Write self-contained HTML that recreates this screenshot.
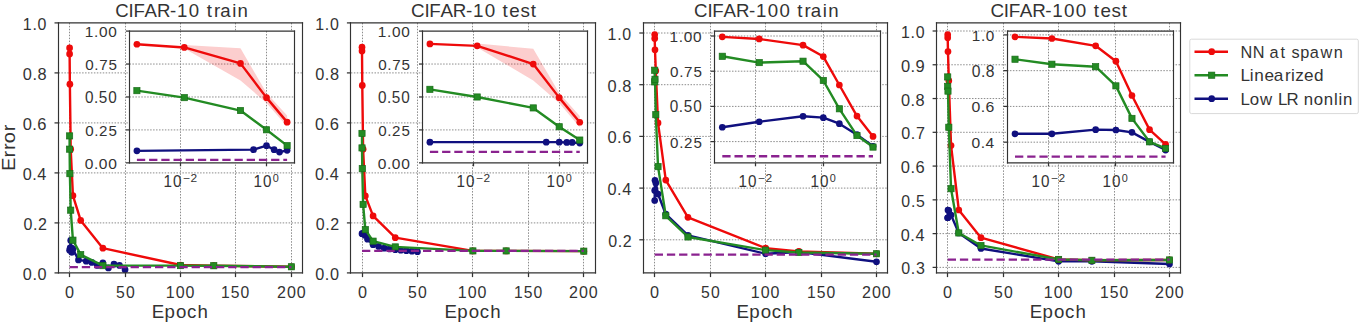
<!DOCTYPE html>
<html><head><meta charset="utf-8"><style>html,body{margin:0;padding:0;background:#fff;}svg{display:block;}</style></head><body>
<svg width="1362" height="323" viewBox="0 0 1362 323" font-family='"Liberation Sans", sans-serif' fill="#333333">
<rect width="1362" height="323" fill="#fff"/>
<clipPath id="c0"><rect x="58.5" y="22.9" width="244.00" height="250.00"/></clipPath>
<line x1="69.50" y1="22.9" x2="69.50" y2="272.9" stroke="#8c8c8c" stroke-width="1" stroke-dasharray="1.5 1.45"/>
<line x1="125.50" y1="22.9" x2="125.50" y2="272.9" stroke="#8c8c8c" stroke-width="1" stroke-dasharray="1.5 1.45"/>
<line x1="180.50" y1="22.9" x2="180.50" y2="272.9" stroke="#8c8c8c" stroke-width="1" stroke-dasharray="1.5 1.45"/>
<line x1="235.50" y1="22.9" x2="235.50" y2="272.9" stroke="#8c8c8c" stroke-width="1" stroke-dasharray="1.5 1.45"/>
<line x1="291.50" y1="22.9" x2="291.50" y2="272.9" stroke="#8c8c8c" stroke-width="1" stroke-dasharray="1.5 1.45"/>
<line x1="58.5" y1="222.90" x2="302.5" y2="222.90" stroke="#8c8c8c" stroke-width="1" stroke-dasharray="1.5 1.45"/>
<line x1="58.5" y1="172.90" x2="302.5" y2="172.90" stroke="#8c8c8c" stroke-width="1" stroke-dasharray="1.5 1.45"/>
<line x1="58.5" y1="122.90" x2="302.5" y2="122.90" stroke="#8c8c8c" stroke-width="1" stroke-dasharray="1.5 1.45"/>
<line x1="58.5" y1="72.90" x2="302.5" y2="72.90" stroke="#8c8c8c" stroke-width="1" stroke-dasharray="1.5 1.45"/>
<g clip-path="url(#c0)"><path d="M69.60,250.15 L70.15,247.90 L70.71,240.40 L71.26,247.90 L71.82,252.40 L72.93,249.15 L78.47,259.90 L86.23,261.15 L91.78,262.40 L97.32,265.40 L102.87,262.90 L108.41,267.90 L113.96,264.15 L119.50,265.40 L125.05,269.65" fill="none" stroke="#10107f" stroke-width="2.4" stroke-linejoin="round"/>
<circle cx="69.60" cy="250.15" r="3.35" fill="#10107f"/>
<circle cx="70.15" cy="247.90" r="3.35" fill="#10107f"/>
<circle cx="70.71" cy="240.40" r="3.35" fill="#10107f"/>
<circle cx="71.26" cy="247.90" r="3.35" fill="#10107f"/>
<circle cx="71.82" cy="252.40" r="3.35" fill="#10107f"/>
<circle cx="72.93" cy="249.15" r="3.35" fill="#10107f"/>
<circle cx="78.47" cy="259.90" r="3.35" fill="#10107f"/>
<circle cx="86.23" cy="261.15" r="3.35" fill="#10107f"/>
<circle cx="91.78" cy="262.40" r="3.35" fill="#10107f"/>
<circle cx="97.32" cy="265.40" r="3.35" fill="#10107f"/>
<circle cx="102.87" cy="262.90" r="3.35" fill="#10107f"/>
<circle cx="108.41" cy="267.90" r="3.35" fill="#10107f"/>
<circle cx="113.96" cy="264.15" r="3.35" fill="#10107f"/>
<circle cx="119.50" cy="265.40" r="3.35" fill="#10107f"/>
<circle cx="125.05" cy="269.65" r="3.35" fill="#10107f"/>
<path d="M69.60,47.90 L69.61,53.90 L69.88,84.15 L70.71,149.15 L72.93,195.65 L80.69,220.40 L102.87,248.15 L180.50,265.00 L213.77,265.65 L291.40,266.77" fill="none" stroke="#ee0a0a" stroke-width="2.4" stroke-linejoin="round"/>
<circle cx="69.60" cy="47.90" r="3.35" fill="#ee0a0a"/>
<circle cx="69.61" cy="53.90" r="3.35" fill="#ee0a0a"/>
<circle cx="69.88" cy="84.15" r="3.35" fill="#ee0a0a"/>
<circle cx="70.71" cy="149.15" r="3.35" fill="#ee0a0a"/>
<circle cx="72.93" cy="195.65" r="3.35" fill="#ee0a0a"/>
<circle cx="80.69" cy="220.40" r="3.35" fill="#ee0a0a"/>
<circle cx="102.87" cy="248.15" r="3.35" fill="#ee0a0a"/>
<circle cx="180.50" cy="265.00" r="3.35" fill="#ee0a0a"/>
<circle cx="213.77" cy="265.65" r="3.35" fill="#ee0a0a"/>
<circle cx="291.40" cy="266.77" r="3.35" fill="#ee0a0a"/>
<path d="M69.60,135.90 L69.61,149.15 L69.88,173.65 L70.71,210.15 L72.93,240.15 L80.69,254.65 L102.87,265.65 L180.50,265.60 L213.77,265.75 L291.40,266.77" fill="none" stroke="#238b23" stroke-width="2.4" stroke-linejoin="round"/>
<rect x="66.50" y="132.80" width="6.20" height="6.20" fill="#238b23" stroke="#186c18" stroke-width="0.7"/>
<rect x="66.51" y="146.05" width="6.20" height="6.20" fill="#238b23" stroke="#186c18" stroke-width="0.7"/>
<rect x="66.78" y="170.55" width="6.20" height="6.20" fill="#238b23" stroke="#186c18" stroke-width="0.7"/>
<rect x="67.61" y="207.05" width="6.20" height="6.20" fill="#238b23" stroke="#186c18" stroke-width="0.7"/>
<rect x="69.83" y="237.05" width="6.20" height="6.20" fill="#238b23" stroke="#186c18" stroke-width="0.7"/>
<rect x="77.59" y="251.55" width="6.20" height="6.20" fill="#238b23" stroke="#186c18" stroke-width="0.7"/>
<rect x="99.77" y="262.55" width="6.20" height="6.20" fill="#238b23" stroke="#186c18" stroke-width="0.7"/>
<rect x="177.40" y="262.50" width="6.20" height="6.20" fill="#238b23" stroke="#186c18" stroke-width="0.7"/>
<rect x="210.67" y="262.65" width="6.20" height="6.20" fill="#238b23" stroke="#186c18" stroke-width="0.7"/>
<rect x="288.30" y="263.67" width="6.20" height="6.20" fill="#238b23" stroke="#186c18" stroke-width="0.7"/>
<line x1="69.60" y1="267.15" x2="291.40" y2="267.15" stroke="#8a228f" stroke-width="2.3" stroke-dasharray="8.3 3.9"/></g>
<path d="M58.50,22.275 L58.50,273.525 M302.50,22.275 L302.50,273.525" stroke="#333333" stroke-width="1.15" fill="none"/><path d="M57.90,22.90 L303.10,22.90 M57.90,272.90 L303.10,272.90" stroke="#333333" stroke-width="1.25" fill="none"/>
<line x1="69.50" y1="272.9" x2="69.50" y2="277.09999999999997" stroke="#333333" stroke-width="1.25"/>
<text transform="translate(65.62,297.60) scale(0.9945,1)" x="-0.64" y="0" font-size="16.32" >0</text>
<line x1="125.50" y1="272.9" x2="125.50" y2="277.09999999999997" stroke="#333333" stroke-width="1.25"/>
<text transform="translate(116.81,297.60) scale(0.9666,1)" x="-0.77 9.43" y="0" font-size="16.32" >50</text>
<line x1="180.50" y1="272.9" x2="180.50" y2="277.09999999999997" stroke="#333333" stroke-width="1.25"/>
<text transform="translate(167.16,297.60) scale(0.9806,1)" x="-1.35 8.72 18.71" y="0" font-size="16.32" >100</text>
<line x1="235.50" y1="272.9" x2="235.50" y2="277.09999999999997" stroke="#333333" stroke-width="1.25"/>
<text transform="translate(222.16,297.60) scale(0.9614,1)" x="-1.29 8.92 19.18" y="0" font-size="16.32" >150</text>
<line x1="291.50" y1="272.9" x2="291.50" y2="277.09999999999997" stroke="#333333" stroke-width="1.25"/>
<text transform="translate(277.88,297.60) scale(0.9829,1)" x="-0.91 9.26 19.23" y="0" font-size="16.32" >200</text>
<line x1="54.5" y1="272.90" x2="58.5" y2="272.90" stroke="#333333" stroke-width="1.25"/>
<text transform="translate(23.45,279.90) scale(0.9969,1)" x="-0.65 8.99 14.09" y="0" font-size="16.32" >0.0</text>
<line x1="54.5" y1="222.90" x2="58.5" y2="222.90" stroke="#333333" stroke-width="1.25"/>
<text transform="translate(23.97,229.90) scale(0.9810,1)" x="-0.58 9.17 14.19" y="0" font-size="16.32" >0.2</text>
<line x1="54.5" y1="172.90" x2="58.5" y2="172.90" stroke="#333333" stroke-width="1.25"/>
<text transform="translate(23.29,179.90) scale(0.9969,1)" x="-0.65 8.99 14.09" y="0" font-size="16.32" >0.4</text>
<line x1="54.5" y1="122.90" x2="58.5" y2="122.90" stroke="#333333" stroke-width="1.25"/>
<text transform="translate(23.39,129.90) scale(1.0124,1)" x="-0.71 8.82 13.81" y="0" font-size="16.32" >0.6</text>
<line x1="54.5" y1="72.90" x2="58.5" y2="72.90" stroke="#333333" stroke-width="1.25"/>
<text transform="translate(23.48,79.90) scale(1.0017,1)" x="-0.67 8.94 14.00" y="0" font-size="16.32" >0.8</text>
<line x1="54.5" y1="22.90" x2="58.5" y2="22.90" stroke="#333333" stroke-width="1.25"/>
<text transform="translate(24.12,29.90) scale(0.9778,1)" x="-1.34 8.52 13.76" y="0" font-size="16.32" >1.0</text>
<text transform="translate(116.62,16.60) scale(0.9815,1)" x="-1.45 12.17 17.15 28.43 41.15 54.42 61.56 73.58 73.58 91.77 99.20 105.61 117.83 123.24" y="0" font-size="18.95" >CIFAR-10 train</text>
<text transform="translate(154.01,318.20) scale(0.9854,1)" x="-2.31 10.75 22.26 33.42 44.17" y="0" font-size="18.95" >Epoch</text>
<g transform="translate(15.0,146.3) rotate(-90)"><text transform="translate(-21.89,0.00) scale(1.0636,1)" x="-2.63 9.95 17.06 23.48 34.76" y="0" font-size="18.95">Error</text></g>
<clipPath id="ic0"><rect x="129.5" y="31.1" width="164.70" height="131.70"/></clipPath>
<rect x="129.5" y="31.1" width="164.70" height="131.70" fill="#fff"/>
<line x1="180.50" y1="31.1" x2="180.50" y2="162.8" stroke="#8c8c8c" stroke-width="1" stroke-dasharray="1.5 1.45"/>
<line x1="266.50" y1="31.1" x2="266.50" y2="162.8" stroke="#8c8c8c" stroke-width="1" stroke-dasharray="1.5 1.45"/>
<line x1="129.5" y1="129.91" x2="294.2" y2="129.91" stroke="#8c8c8c" stroke-width="1" stroke-dasharray="1.5 1.45"/>
<line x1="129.5" y1="96.97" x2="294.2" y2="96.97" stroke="#8c8c8c" stroke-width="1" stroke-dasharray="1.5 1.45"/>
<line x1="129.5" y1="64.04" x2="294.2" y2="64.04" stroke="#8c8c8c" stroke-width="1" stroke-dasharray="1.5 1.45"/>
<g clip-path="url(#ic0)"><path d="M184.29,44.93 L240.49,48.23 L266.50,93.02 L287.11,115.42 L287.11,126.62 L266.50,102.90 L240.49,80.51 L184.29,48.49Z" fill="#ee0a0a" fill-opacity="0.2" stroke="none"/>
<path d="M136.90,150.86 L253.50,149.67 L266.50,145.72 L274.11,149.67 L279.50,152.05 L287.11,150.33" fill="none" stroke="#10107f" stroke-width="2.4" stroke-linejoin="round"/>
<circle cx="136.90" cy="150.86" r="3.35" fill="#10107f"/>
<circle cx="253.50" cy="149.67" r="3.35" fill="#10107f"/>
<circle cx="266.50" cy="145.72" r="3.35" fill="#10107f"/>
<circle cx="274.11" cy="149.67" r="3.35" fill="#10107f"/>
<circle cx="279.50" cy="152.05" r="3.35" fill="#10107f"/>
<circle cx="287.11" cy="150.33" r="3.35" fill="#10107f"/>
<path d="M136.90,44.27 L184.29,47.44 L240.49,63.38 L266.50,97.63 L287.11,122.14" fill="none" stroke="#ee0a0a" stroke-width="2.4" stroke-linejoin="round"/>
<circle cx="136.90" cy="44.27" r="3.35" fill="#ee0a0a"/>
<circle cx="184.29" cy="47.44" r="3.35" fill="#ee0a0a"/>
<circle cx="240.49" cy="63.38" r="3.35" fill="#ee0a0a"/>
<circle cx="266.50" cy="97.63" r="3.35" fill="#ee0a0a"/>
<circle cx="287.11" cy="122.14" r="3.35" fill="#ee0a0a"/>
<path d="M136.90,90.65 L184.29,97.63 L240.49,110.55 L266.50,129.78 L287.11,145.59" fill="none" stroke="#238b23" stroke-width="2.4" stroke-linejoin="round"/>
<rect x="133.80" y="87.55" width="6.20" height="6.20" fill="#238b23" stroke="#186c18" stroke-width="0.7"/>
<rect x="181.19" y="94.53" width="6.20" height="6.20" fill="#238b23" stroke="#186c18" stroke-width="0.7"/>
<rect x="237.39" y="107.45" width="6.20" height="6.20" fill="#238b23" stroke="#186c18" stroke-width="0.7"/>
<rect x="263.40" y="126.68" width="6.20" height="6.20" fill="#238b23" stroke="#186c18" stroke-width="0.7"/>
<rect x="284.01" y="142.49" width="6.20" height="6.20" fill="#238b23" stroke="#186c18" stroke-width="0.7"/>
<line x1="136.90" y1="159.95" x2="287.11" y2="159.95" stroke="#8a228f" stroke-width="2.3" stroke-dasharray="8.3 3.9"/></g>
<path d="M129.50,30.475 L129.50,163.425 M294.50,30.475 L294.50,163.425" stroke="#333333" stroke-width="1.15" fill="none"/><path d="M128.90,31.10 L295.10,31.10 M128.90,162.80 L295.10,162.80" stroke="#333333" stroke-width="1.25" fill="none"/>
<line x1="180.50" y1="162.8" x2="180.50" y2="166.3" stroke="#333333" stroke-width="1.25"/>
<text transform="translate(164.77,186.80) scale(0.9733,1)" x="-1.27 8.45" y="0" font-size="15.64" >10</text>
<text transform="translate(183.14,181.90) scale(1.0912,1)" x="-0.24 6.77" y="0" font-size="10.94" >−2</text>
<line x1="266.50" y1="162.8" x2="266.50" y2="166.3" stroke="#333333" stroke-width="1.25"/>
<text transform="translate(254.71,186.80) scale(0.9733,1)" x="-1.27 8.45" y="0" font-size="15.64" >10</text>
<text transform="translate(273.08,181.90) scale(0.9945,1)" x="-0.43" y="0" font-size="10.94" >0</text>
<line x1="126.0" y1="162.85" x2="129.5" y2="162.85" stroke="#333333" stroke-width="1.25"/>
<text transform="translate(85.41,168.85) scale(1.0008,1)" x="-0.61 8.58 13.45 22.82" y="0" font-size="15.56" >0.00</text>
<line x1="126.0" y1="129.91" x2="129.5" y2="129.91" stroke="#333333" stroke-width="1.25"/>
<text transform="translate(85.72,135.91) scale(0.9722,1)" x="-0.50 8.89 13.77 23.56" y="0" font-size="15.56" >0.25</text>
<line x1="126.0" y1="96.97" x2="129.5" y2="96.97" stroke="#333333" stroke-width="1.25"/>
<text transform="translate(85.41,102.97) scale(0.9834,1)" x="-0.55 8.77 13.70 23.31" y="0" font-size="15.56" >0.50</text>
<line x1="126.0" y1="64.04" x2="129.5" y2="64.04" stroke="#333333" stroke-width="1.25"/>
<text transform="translate(85.72,70.04) scale(0.9765,1)" x="-0.52 8.85 13.86 23.44" y="0" font-size="15.56" >0.75</text>
<line x1="126.0" y1="31.10" x2="129.5" y2="31.10" stroke="#333333" stroke-width="1.25"/>
<text transform="translate(86.06,37.10) scale(0.9878,1)" x="-1.30 8.06 13.03 22.53" y="0" font-size="15.56" >1.00</text>
<clipPath id="c1"><rect x="350.9" y="22.9" width="244.70" height="250.00"/></clipPath>
<line x1="362.50" y1="22.9" x2="362.50" y2="272.9" stroke="#8c8c8c" stroke-width="1" stroke-dasharray="1.5 1.45"/>
<line x1="417.50" y1="22.9" x2="417.50" y2="272.9" stroke="#8c8c8c" stroke-width="1" stroke-dasharray="1.5 1.45"/>
<line x1="472.50" y1="22.9" x2="472.50" y2="272.9" stroke="#8c8c8c" stroke-width="1" stroke-dasharray="1.5 1.45"/>
<line x1="528.50" y1="22.9" x2="528.50" y2="272.9" stroke="#8c8c8c" stroke-width="1" stroke-dasharray="1.5 1.45"/>
<line x1="583.50" y1="22.9" x2="583.50" y2="272.9" stroke="#8c8c8c" stroke-width="1" stroke-dasharray="1.5 1.45"/>
<line x1="350.9" y1="222.90" x2="595.6" y2="222.90" stroke="#8c8c8c" stroke-width="1" stroke-dasharray="1.5 1.45"/>
<line x1="350.9" y1="172.90" x2="595.6" y2="172.90" stroke="#8c8c8c" stroke-width="1" stroke-dasharray="1.5 1.45"/>
<line x1="350.9" y1="122.90" x2="595.6" y2="122.90" stroke="#8c8c8c" stroke-width="1" stroke-dasharray="1.5 1.45"/>
<line x1="350.9" y1="72.90" x2="595.6" y2="72.90" stroke="#8c8c8c" stroke-width="1" stroke-dasharray="1.5 1.45"/>
<g clip-path="url(#c1)"><path d="M362.00,233.65 L362.55,233.65 L363.11,233.65 L363.66,234.15 L364.22,234.15 L365.33,235.40 L367.55,239.15 L373.09,244.65 L378.63,246.40 L384.18,248.15 L389.73,248.90 L395.27,249.65 L400.81,250.15 L406.36,250.65 L411.90,251.15 L417.45,251.65" fill="none" stroke="#10107f" stroke-width="2.4" stroke-linejoin="round"/>
<circle cx="362.00" cy="233.65" r="3.35" fill="#10107f"/>
<circle cx="362.55" cy="233.65" r="3.35" fill="#10107f"/>
<circle cx="363.11" cy="233.65" r="3.35" fill="#10107f"/>
<circle cx="363.66" cy="234.15" r="3.35" fill="#10107f"/>
<circle cx="364.22" cy="234.15" r="3.35" fill="#10107f"/>
<circle cx="365.33" cy="235.40" r="3.35" fill="#10107f"/>
<circle cx="367.55" cy="239.15" r="3.35" fill="#10107f"/>
<circle cx="373.09" cy="244.65" r="3.35" fill="#10107f"/>
<circle cx="378.63" cy="246.40" r="3.35" fill="#10107f"/>
<circle cx="384.18" cy="248.15" r="3.35" fill="#10107f"/>
<circle cx="389.73" cy="248.90" r="3.35" fill="#10107f"/>
<circle cx="395.27" cy="249.65" r="3.35" fill="#10107f"/>
<circle cx="400.81" cy="250.15" r="3.35" fill="#10107f"/>
<circle cx="406.36" cy="250.65" r="3.35" fill="#10107f"/>
<circle cx="411.90" cy="251.15" r="3.35" fill="#10107f"/>
<circle cx="417.45" cy="251.65" r="3.35" fill="#10107f"/>
<path d="M362.00,47.15 L362.01,50.90 L362.28,85.40 L363.11,149.15 L365.33,195.90 L373.09,215.90 L395.27,237.65 L472.90,250.90 L506.17,250.90 L583.80,251.15" fill="none" stroke="#ee0a0a" stroke-width="2.4" stroke-linejoin="round"/>
<circle cx="362.00" cy="47.15" r="3.35" fill="#ee0a0a"/>
<circle cx="362.01" cy="50.90" r="3.35" fill="#ee0a0a"/>
<circle cx="362.28" cy="85.40" r="3.35" fill="#ee0a0a"/>
<circle cx="363.11" cy="149.15" r="3.35" fill="#ee0a0a"/>
<circle cx="365.33" cy="195.90" r="3.35" fill="#ee0a0a"/>
<circle cx="373.09" cy="215.90" r="3.35" fill="#ee0a0a"/>
<circle cx="395.27" cy="237.65" r="3.35" fill="#ee0a0a"/>
<circle cx="472.90" cy="250.90" r="3.35" fill="#ee0a0a"/>
<circle cx="506.17" cy="250.90" r="3.35" fill="#ee0a0a"/>
<circle cx="583.80" cy="251.15" r="3.35" fill="#ee0a0a"/>
<path d="M362.00,133.40 L362.01,147.90 L362.28,168.65 L363.11,204.40 L365.33,229.65 L373.09,241.15 L395.27,246.90 L472.90,250.90 L506.17,250.90 L583.80,251.15" fill="none" stroke="#238b23" stroke-width="2.4" stroke-linejoin="round"/>
<rect x="358.90" y="130.30" width="6.20" height="6.20" fill="#238b23" stroke="#186c18" stroke-width="0.7"/>
<rect x="358.91" y="144.80" width="6.20" height="6.20" fill="#238b23" stroke="#186c18" stroke-width="0.7"/>
<rect x="359.18" y="165.55" width="6.20" height="6.20" fill="#238b23" stroke="#186c18" stroke-width="0.7"/>
<rect x="360.01" y="201.30" width="6.20" height="6.20" fill="#238b23" stroke="#186c18" stroke-width="0.7"/>
<rect x="362.23" y="226.55" width="6.20" height="6.20" fill="#238b23" stroke="#186c18" stroke-width="0.7"/>
<rect x="369.99" y="238.05" width="6.20" height="6.20" fill="#238b23" stroke="#186c18" stroke-width="0.7"/>
<rect x="392.17" y="243.80" width="6.20" height="6.20" fill="#238b23" stroke="#186c18" stroke-width="0.7"/>
<rect x="469.80" y="247.80" width="6.20" height="6.20" fill="#238b23" stroke="#186c18" stroke-width="0.7"/>
<rect x="503.07" y="247.80" width="6.20" height="6.20" fill="#238b23" stroke="#186c18" stroke-width="0.7"/>
<rect x="580.70" y="248.05" width="6.20" height="6.20" fill="#238b23" stroke="#186c18" stroke-width="0.7"/>
<line x1="362.00" y1="250.90" x2="583.80" y2="250.90" stroke="#8a228f" stroke-width="2.3" stroke-dasharray="8.3 3.9"/></g>
<path d="M350.50,22.275 L350.50,273.525 M595.50,22.275 L595.50,273.525" stroke="#333333" stroke-width="1.15" fill="none"/><path d="M349.90,22.90 L596.10,22.90 M349.90,272.90 L596.10,272.90" stroke="#333333" stroke-width="1.25" fill="none"/>
<line x1="362.50" y1="272.9" x2="362.50" y2="277.09999999999997" stroke="#333333" stroke-width="1.25"/>
<text transform="translate(358.62,297.60) scale(0.9945,1)" x="-0.64" y="0" font-size="16.32" >0</text>
<line x1="417.50" y1="272.9" x2="417.50" y2="277.09999999999997" stroke="#333333" stroke-width="1.25"/>
<text transform="translate(408.81,297.60) scale(0.9666,1)" x="-0.77 9.43" y="0" font-size="16.32" >50</text>
<line x1="472.50" y1="272.9" x2="472.50" y2="277.09999999999997" stroke="#333333" stroke-width="1.25"/>
<text transform="translate(459.16,297.60) scale(0.9806,1)" x="-1.35 8.72 18.71" y="0" font-size="16.32" >100</text>
<line x1="528.50" y1="272.9" x2="528.50" y2="277.09999999999997" stroke="#333333" stroke-width="1.25"/>
<text transform="translate(515.16,297.60) scale(0.9614,1)" x="-1.29 8.92 19.18" y="0" font-size="16.32" >150</text>
<line x1="583.50" y1="272.9" x2="583.50" y2="277.09999999999997" stroke="#333333" stroke-width="1.25"/>
<text transform="translate(569.88,297.60) scale(0.9829,1)" x="-0.91 9.26 19.23" y="0" font-size="16.32" >200</text>
<line x1="346.9" y1="272.90" x2="350.9" y2="272.90" stroke="#333333" stroke-width="1.25"/>
<text transform="translate(315.85,279.90) scale(0.9969,1)" x="-0.65 8.99 14.09" y="0" font-size="16.32" >0.0</text>
<line x1="346.9" y1="222.90" x2="350.9" y2="222.90" stroke="#333333" stroke-width="1.25"/>
<text transform="translate(316.37,229.90) scale(0.9810,1)" x="-0.58 9.17 14.19" y="0" font-size="16.32" >0.2</text>
<line x1="346.9" y1="172.90" x2="350.9" y2="172.90" stroke="#333333" stroke-width="1.25"/>
<text transform="translate(315.69,179.90) scale(0.9969,1)" x="-0.65 8.99 14.09" y="0" font-size="16.32" >0.4</text>
<line x1="346.9" y1="122.90" x2="350.9" y2="122.90" stroke="#333333" stroke-width="1.25"/>
<text transform="translate(315.79,129.90) scale(1.0124,1)" x="-0.71 8.82 13.81" y="0" font-size="16.32" >0.6</text>
<line x1="346.9" y1="72.90" x2="350.9" y2="72.90" stroke="#333333" stroke-width="1.25"/>
<text transform="translate(315.88,79.90) scale(1.0017,1)" x="-0.67 8.94 14.00" y="0" font-size="16.32" >0.8</text>
<line x1="346.9" y1="22.90" x2="350.9" y2="22.90" stroke="#333333" stroke-width="1.25"/>
<text transform="translate(316.52,29.90) scale(0.9778,1)" x="-1.34 8.52 13.76" y="0" font-size="16.32" >1.0</text>
<text transform="translate(412.55,16.60) scale(0.9917,1)" x="-1.51 12.02 16.91 28.08 40.66 53.83 60.87 72.77 72.77 90.80 97.59 108.75 119.15" y="0" font-size="18.95" >CIFAR-10 test</text>
<text transform="translate(446.76,318.20) scale(0.9854,1)" x="-2.31 10.75 22.26 33.42 44.17" y="0" font-size="18.95" >Epoch</text>
<clipPath id="ic1"><rect x="422.5" y="31.1" width="165.00" height="131.70"/></clipPath>
<rect x="422.5" y="31.1" width="165.00" height="131.70" fill="#fff"/>
<line x1="473.50" y1="31.1" x2="473.50" y2="162.8" stroke="#8c8c8c" stroke-width="1" stroke-dasharray="1.5 1.45"/>
<line x1="559.50" y1="31.1" x2="559.50" y2="162.8" stroke="#8c8c8c" stroke-width="1" stroke-dasharray="1.5 1.45"/>
<line x1="422.5" y1="129.91" x2="587.5" y2="129.91" stroke="#8c8c8c" stroke-width="1" stroke-dasharray="1.5 1.45"/>
<line x1="422.5" y1="96.97" x2="587.5" y2="96.97" stroke="#8c8c8c" stroke-width="1" stroke-dasharray="1.5 1.45"/>
<line x1="422.5" y1="64.04" x2="587.5" y2="64.04" stroke="#8c8c8c" stroke-width="1" stroke-dasharray="1.5 1.45"/>
<g clip-path="url(#ic1)"><path d="M477.18,43.62 L533.25,48.75 L559.20,93.02 L579.76,116.08 L579.76,127.28 L559.20,102.90 L533.25,80.51 L477.18,47.44Z" fill="#ee0a0a" fill-opacity="0.2" stroke="none"/>
<path d="M429.90,142.17 L546.23,142.17 L559.20,142.17 L566.79,142.43 L572.17,142.43 L579.76,143.09" fill="none" stroke="#10107f" stroke-width="2.4" stroke-linejoin="round"/>
<circle cx="429.90" cy="142.17" r="3.35" fill="#10107f"/>
<circle cx="546.23" cy="142.17" r="3.35" fill="#10107f"/>
<circle cx="559.20" cy="142.17" r="3.35" fill="#10107f"/>
<circle cx="566.79" cy="142.43" r="3.35" fill="#10107f"/>
<circle cx="572.17" cy="142.43" r="3.35" fill="#10107f"/>
<circle cx="579.76" cy="143.09" r="3.35" fill="#10107f"/>
<path d="M429.90,43.88 L477.18,45.86 L533.25,64.04 L559.20,97.63 L579.76,122.27" fill="none" stroke="#ee0a0a" stroke-width="2.4" stroke-linejoin="round"/>
<circle cx="429.90" cy="43.88" r="3.35" fill="#ee0a0a"/>
<circle cx="477.18" cy="45.86" r="3.35" fill="#ee0a0a"/>
<circle cx="533.25" cy="64.04" r="3.35" fill="#ee0a0a"/>
<circle cx="559.20" cy="97.63" r="3.35" fill="#ee0a0a"/>
<circle cx="579.76" cy="122.27" r="3.35" fill="#ee0a0a"/>
<path d="M429.90,89.33 L477.18,96.97 L533.25,107.91 L559.20,126.75 L579.76,140.06" fill="none" stroke="#238b23" stroke-width="2.4" stroke-linejoin="round"/>
<rect x="426.80" y="86.23" width="6.20" height="6.20" fill="#238b23" stroke="#186c18" stroke-width="0.7"/>
<rect x="474.08" y="93.88" width="6.20" height="6.20" fill="#238b23" stroke="#186c18" stroke-width="0.7"/>
<rect x="530.15" y="104.81" width="6.20" height="6.20" fill="#238b23" stroke="#186c18" stroke-width="0.7"/>
<rect x="556.10" y="123.65" width="6.20" height="6.20" fill="#238b23" stroke="#186c18" stroke-width="0.7"/>
<rect x="576.66" y="136.96" width="6.20" height="6.20" fill="#238b23" stroke="#186c18" stroke-width="0.7"/>
<line x1="429.90" y1="151.78" x2="579.76" y2="151.78" stroke="#8a228f" stroke-width="2.3" stroke-dasharray="8.3 3.9"/></g>
<path d="M422.50,30.475 L422.50,163.425 M587.50,30.475 L587.50,163.425" stroke="#333333" stroke-width="1.15" fill="none"/><path d="M421.90,31.10 L588.10,31.10 M421.90,162.80 L588.10,162.80" stroke="#333333" stroke-width="1.25" fill="none"/>
<line x1="473.50" y1="162.8" x2="473.50" y2="166.3" stroke="#333333" stroke-width="1.25"/>
<text transform="translate(457.77,186.80) scale(0.9733,1)" x="-1.27 8.45" y="0" font-size="15.64" >10</text>
<text transform="translate(476.14,181.90) scale(1.0912,1)" x="-0.24 6.77" y="0" font-size="10.94" >−2</text>
<line x1="559.50" y1="162.8" x2="559.50" y2="166.3" stroke="#333333" stroke-width="1.25"/>
<text transform="translate(547.71,186.80) scale(0.9733,1)" x="-1.27 8.45" y="0" font-size="15.64" >10</text>
<text transform="translate(566.08,181.90) scale(0.9945,1)" x="-0.43" y="0" font-size="10.94" >0</text>
<line x1="419.0" y1="162.85" x2="422.5" y2="162.85" stroke="#333333" stroke-width="1.25"/>
<text transform="translate(378.41,168.85) scale(1.0008,1)" x="-0.61 8.58 13.45 22.82" y="0" font-size="15.56" >0.00</text>
<line x1="419.0" y1="129.91" x2="422.5" y2="129.91" stroke="#333333" stroke-width="1.25"/>
<text transform="translate(378.72,135.91) scale(0.9722,1)" x="-0.50 8.89 13.77 23.56" y="0" font-size="15.56" >0.25</text>
<line x1="419.0" y1="96.97" x2="422.5" y2="96.97" stroke="#333333" stroke-width="1.25"/>
<text transform="translate(378.41,102.97) scale(0.9834,1)" x="-0.55 8.77 13.70 23.31" y="0" font-size="15.56" >0.50</text>
<line x1="419.0" y1="64.04" x2="422.5" y2="64.04" stroke="#333333" stroke-width="1.25"/>
<text transform="translate(378.72,70.04) scale(0.9765,1)" x="-0.52 8.85 13.86 23.44" y="0" font-size="15.56" >0.75</text>
<line x1="419.0" y1="31.10" x2="422.5" y2="31.10" stroke="#333333" stroke-width="1.25"/>
<text transform="translate(379.06,37.10) scale(0.9878,1)" x="-1.30 8.06 13.03 22.53" y="0" font-size="15.56" >1.00</text>
<clipPath id="c2"><rect x="643.3" y="22.9" width="243.90" height="250.00"/></clipPath>
<line x1="654.50" y1="22.9" x2="654.50" y2="272.9" stroke="#8c8c8c" stroke-width="1" stroke-dasharray="1.5 1.45"/>
<line x1="710.50" y1="22.9" x2="710.50" y2="272.9" stroke="#8c8c8c" stroke-width="1" stroke-dasharray="1.5 1.45"/>
<line x1="765.50" y1="22.9" x2="765.50" y2="272.9" stroke="#8c8c8c" stroke-width="1" stroke-dasharray="1.5 1.45"/>
<line x1="821.50" y1="22.9" x2="821.50" y2="272.9" stroke="#8c8c8c" stroke-width="1" stroke-dasharray="1.5 1.45"/>
<line x1="876.50" y1="22.9" x2="876.50" y2="272.9" stroke="#8c8c8c" stroke-width="1" stroke-dasharray="1.5 1.45"/>
<line x1="643.3" y1="239.80" x2="887.2" y2="239.80" stroke="#8c8c8c" stroke-width="1" stroke-dasharray="1.5 1.45"/>
<line x1="643.3" y1="188.10" x2="887.2" y2="188.10" stroke="#8c8c8c" stroke-width="1" stroke-dasharray="1.5 1.45"/>
<line x1="643.3" y1="136.40" x2="887.2" y2="136.40" stroke="#8c8c8c" stroke-width="1" stroke-dasharray="1.5 1.45"/>
<line x1="643.3" y1="84.70" x2="887.2" y2="84.70" stroke="#8c8c8c" stroke-width="1" stroke-dasharray="1.5 1.45"/>
<line x1="643.3" y1="33.00" x2="887.2" y2="33.00" stroke="#8c8c8c" stroke-width="1" stroke-dasharray="1.5 1.45"/>
<g clip-path="url(#c2)"><path d="M654.70,200.51 L654.71,190.43 L654.98,180.35 L655.81,182.93 L658.03,194.05 L665.79,214.21 L687.97,235.41 L765.60,253.76 L798.87,251.95 L876.50,261.77" fill="none" stroke="#10107f" stroke-width="2.4" stroke-linejoin="round"/>
<circle cx="654.70" cy="200.51" r="3.35" fill="#10107f"/>
<circle cx="654.71" cy="190.43" r="3.35" fill="#10107f"/>
<circle cx="654.98" cy="180.35" r="3.35" fill="#10107f"/>
<circle cx="655.81" cy="182.93" r="3.35" fill="#10107f"/>
<circle cx="658.03" cy="194.05" r="3.35" fill="#10107f"/>
<circle cx="665.79" cy="214.21" r="3.35" fill="#10107f"/>
<circle cx="687.97" cy="235.41" r="3.35" fill="#10107f"/>
<circle cx="765.60" cy="253.76" r="3.35" fill="#10107f"/>
<circle cx="798.87" cy="251.95" r="3.35" fill="#10107f"/>
<circle cx="876.50" cy="261.77" r="3.35" fill="#10107f"/>
<path d="M654.70,34.55 L654.71,38.43 L654.98,49.80 L655.81,70.74 L658.03,122.96 L665.79,180.09 L687.97,217.31 L765.60,248.20 L798.87,251.43 L876.50,253.76" fill="none" stroke="#ee0a0a" stroke-width="2.4" stroke-linejoin="round"/>
<circle cx="654.70" cy="34.55" r="3.35" fill="#ee0a0a"/>
<circle cx="654.71" cy="38.43" r="3.35" fill="#ee0a0a"/>
<circle cx="654.98" cy="49.80" r="3.35" fill="#ee0a0a"/>
<circle cx="655.81" cy="70.74" r="3.35" fill="#ee0a0a"/>
<circle cx="658.03" cy="122.96" r="3.35" fill="#ee0a0a"/>
<circle cx="665.79" cy="180.09" r="3.35" fill="#ee0a0a"/>
<circle cx="687.97" cy="217.31" r="3.35" fill="#ee0a0a"/>
<circle cx="765.60" cy="248.20" r="3.35" fill="#ee0a0a"/>
<circle cx="798.87" cy="251.43" r="3.35" fill="#ee0a0a"/>
<circle cx="876.50" cy="253.76" r="3.35" fill="#ee0a0a"/>
<path d="M654.70,70.22 L654.71,81.86 L654.98,79.27 L655.81,114.69 L658.03,166.64 L665.79,215.76 L687.97,236.96 L765.60,250.14 L798.87,252.47 L876.50,253.76" fill="none" stroke="#238b23" stroke-width="2.4" stroke-linejoin="round"/>
<rect x="651.60" y="67.12" width="6.20" height="6.20" fill="#238b23" stroke="#186c18" stroke-width="0.7"/>
<rect x="651.61" y="78.76" width="6.20" height="6.20" fill="#238b23" stroke="#186c18" stroke-width="0.7"/>
<rect x="651.88" y="76.17" width="6.20" height="6.20" fill="#238b23" stroke="#186c18" stroke-width="0.7"/>
<rect x="652.71" y="111.59" width="6.20" height="6.20" fill="#238b23" stroke="#186c18" stroke-width="0.7"/>
<rect x="654.93" y="163.54" width="6.20" height="6.20" fill="#238b23" stroke="#186c18" stroke-width="0.7"/>
<rect x="662.69" y="212.66" width="6.20" height="6.20" fill="#238b23" stroke="#186c18" stroke-width="0.7"/>
<rect x="684.87" y="233.86" width="6.20" height="6.20" fill="#238b23" stroke="#186c18" stroke-width="0.7"/>
<rect x="762.50" y="247.04" width="6.20" height="6.20" fill="#238b23" stroke="#186c18" stroke-width="0.7"/>
<rect x="795.77" y="249.37" width="6.20" height="6.20" fill="#238b23" stroke="#186c18" stroke-width="0.7"/>
<rect x="873.40" y="250.66" width="6.20" height="6.20" fill="#238b23" stroke="#186c18" stroke-width="0.7"/>
<line x1="654.70" y1="254.53" x2="876.50" y2="254.53" stroke="#8a228f" stroke-width="2.3" stroke-dasharray="8.3 3.9"/></g>
<path d="M643.50,22.275 L643.50,273.525 M887.50,22.275 L887.50,273.525" stroke="#333333" stroke-width="1.15" fill="none"/><path d="M642.90,22.90 L888.10,22.90 M642.90,272.90 L888.10,272.90" stroke="#333333" stroke-width="1.25" fill="none"/>
<line x1="654.50" y1="272.9" x2="654.50" y2="277.09999999999997" stroke="#333333" stroke-width="1.25"/>
<text transform="translate(650.62,297.60) scale(0.9945,1)" x="-0.64" y="0" font-size="16.32" >0</text>
<line x1="710.50" y1="272.9" x2="710.50" y2="277.09999999999997" stroke="#333333" stroke-width="1.25"/>
<text transform="translate(701.81,297.60) scale(0.9666,1)" x="-0.77 9.43" y="0" font-size="16.32" >50</text>
<line x1="765.50" y1="272.9" x2="765.50" y2="277.09999999999997" stroke="#333333" stroke-width="1.25"/>
<text transform="translate(752.16,297.60) scale(0.9806,1)" x="-1.35 8.72 18.71" y="0" font-size="16.32" >100</text>
<line x1="821.50" y1="272.9" x2="821.50" y2="277.09999999999997" stroke="#333333" stroke-width="1.25"/>
<text transform="translate(808.16,297.60) scale(0.9614,1)" x="-1.29 8.92 19.18" y="0" font-size="16.32" >150</text>
<line x1="876.50" y1="272.9" x2="876.50" y2="277.09999999999997" stroke="#333333" stroke-width="1.25"/>
<text transform="translate(862.88,297.60) scale(0.9829,1)" x="-0.91 9.26 19.23" y="0" font-size="16.32" >200</text>
<line x1="639.3" y1="239.80" x2="643.3" y2="239.80" stroke="#333333" stroke-width="1.25"/>
<text transform="translate(608.77,246.80) scale(0.9810,1)" x="-0.58 9.17 14.19" y="0" font-size="16.32" >0.2</text>
<line x1="639.3" y1="188.10" x2="643.3" y2="188.10" stroke="#333333" stroke-width="1.25"/>
<text transform="translate(608.09,195.10) scale(0.9969,1)" x="-0.65 8.99 14.09" y="0" font-size="16.32" >0.4</text>
<line x1="639.3" y1="136.40" x2="643.3" y2="136.40" stroke="#333333" stroke-width="1.25"/>
<text transform="translate(608.19,143.40) scale(1.0124,1)" x="-0.71 8.82 13.81" y="0" font-size="16.32" >0.6</text>
<line x1="639.3" y1="84.70" x2="643.3" y2="84.70" stroke="#333333" stroke-width="1.25"/>
<text transform="translate(608.28,91.70) scale(1.0017,1)" x="-0.67 8.94 14.00" y="0" font-size="16.32" >0.8</text>
<line x1="639.3" y1="33.00" x2="643.3" y2="33.00" stroke="#333333" stroke-width="1.25"/>
<text transform="translate(608.92,40.00) scale(0.9778,1)" x="-1.34 8.52 13.76" y="0" font-size="16.32" >1.0</text>
<text transform="translate(695.52,16.60) scale(0.9851,1)" x="-1.47 12.11 17.06 28.31 40.98 54.22 61.32 73.29 85.18 85.18 103.31 110.71 117.10 129.28 134.66" y="0" font-size="18.95" >CIFAR-100 train</text>
<text transform="translate(738.76,318.20) scale(0.9854,1)" x="-2.31 10.75 22.26 33.42 44.17" y="0" font-size="18.95" >Epoch</text>
<clipPath id="ic2"><rect x="714.3" y="31.1" width="165.90" height="131.70"/></clipPath>
<rect x="714.3" y="31.1" width="165.90" height="131.70" fill="#fff"/>
<line x1="755.50" y1="31.1" x2="755.50" y2="162.8" stroke="#8c8c8c" stroke-width="1" stroke-dasharray="1.5 1.45"/>
<line x1="823.50" y1="31.1" x2="823.50" y2="162.8" stroke="#8c8c8c" stroke-width="1" stroke-dasharray="1.5 1.45"/>
<line x1="714.3" y1="141.60" x2="880.2" y2="141.60" stroke="#8c8c8c" stroke-width="1" stroke-dasharray="1.5 1.45"/>
<line x1="714.3" y1="106.40" x2="880.2" y2="106.40" stroke="#8c8c8c" stroke-width="1" stroke-dasharray="1.5 1.45"/>
<line x1="714.3" y1="71.20" x2="880.2" y2="71.20" stroke="#8c8c8c" stroke-width="1" stroke-dasharray="1.5 1.45"/>
<line x1="714.3" y1="36.00" x2="880.2" y2="36.00" stroke="#8c8c8c" stroke-width="1" stroke-dasharray="1.5 1.45"/>
<g clip-path="url(#ic2)"><path d="M722.29,127.24 L759.22,121.75 L803.03,116.26 L823.30,117.66 L839.36,123.72 L856.97,134.70 L873.03,146.25" fill="none" stroke="#10107f" stroke-width="2.4" stroke-linejoin="round"/>
<circle cx="722.29" cy="127.24" r="3.35" fill="#10107f"/>
<circle cx="759.22" cy="121.75" r="3.35" fill="#10107f"/>
<circle cx="803.03" cy="116.26" r="3.35" fill="#10107f"/>
<circle cx="823.30" cy="117.66" r="3.35" fill="#10107f"/>
<circle cx="839.36" cy="123.72" r="3.35" fill="#10107f"/>
<circle cx="856.97" cy="134.70" r="3.35" fill="#10107f"/>
<circle cx="873.03" cy="146.25" r="3.35" fill="#10107f"/>
<path d="M722.29,36.84 L759.22,38.96 L803.03,45.15 L823.30,56.56 L839.36,85.00 L856.97,116.12 L873.03,136.39" fill="none" stroke="#ee0a0a" stroke-width="2.4" stroke-linejoin="round"/>
<circle cx="722.29" cy="36.84" r="3.35" fill="#ee0a0a"/>
<circle cx="759.22" cy="38.96" r="3.35" fill="#ee0a0a"/>
<circle cx="803.03" cy="45.15" r="3.35" fill="#ee0a0a"/>
<circle cx="823.30" cy="56.56" r="3.35" fill="#ee0a0a"/>
<circle cx="839.36" cy="85.00" r="3.35" fill="#ee0a0a"/>
<circle cx="856.97" cy="116.12" r="3.35" fill="#ee0a0a"/>
<circle cx="873.03" cy="136.39" r="3.35" fill="#ee0a0a"/>
<path d="M722.29,56.28 L759.22,62.61 L803.03,61.20 L823.30,80.49 L839.36,108.79 L856.97,135.55 L873.03,147.09" fill="none" stroke="#238b23" stroke-width="2.4" stroke-linejoin="round"/>
<rect x="719.19" y="53.18" width="6.20" height="6.20" fill="#238b23" stroke="#186c18" stroke-width="0.7"/>
<rect x="756.12" y="59.51" width="6.20" height="6.20" fill="#238b23" stroke="#186c18" stroke-width="0.7"/>
<rect x="799.93" y="58.10" width="6.20" height="6.20" fill="#238b23" stroke="#186c18" stroke-width="0.7"/>
<rect x="820.20" y="77.39" width="6.20" height="6.20" fill="#238b23" stroke="#186c18" stroke-width="0.7"/>
<rect x="836.26" y="105.69" width="6.20" height="6.20" fill="#238b23" stroke="#186c18" stroke-width="0.7"/>
<rect x="853.87" y="132.45" width="6.20" height="6.20" fill="#238b23" stroke="#186c18" stroke-width="0.7"/>
<rect x="869.93" y="143.99" width="6.20" height="6.20" fill="#238b23" stroke="#186c18" stroke-width="0.7"/>
<line x1="722.29" y1="156.24" x2="873.03" y2="156.24" stroke="#8a228f" stroke-width="2.3" stroke-dasharray="8.3 3.9"/></g>
<path d="M714.50,30.475 L714.50,163.425 M880.50,30.475 L880.50,163.425" stroke="#333333" stroke-width="1.15" fill="none"/><path d="M713.90,31.10 L881.10,31.10 M713.90,162.80 L881.10,162.80" stroke="#333333" stroke-width="1.25" fill="none"/>
<line x1="755.50" y1="162.8" x2="755.50" y2="166.3" stroke="#333333" stroke-width="1.25"/>
<text transform="translate(739.77,186.80) scale(0.9733,1)" x="-1.27 8.45" y="0" font-size="15.64" >10</text>
<text transform="translate(758.14,181.90) scale(1.0912,1)" x="-0.24 6.77" y="0" font-size="10.94" >−2</text>
<line x1="823.50" y1="162.8" x2="823.50" y2="166.3" stroke="#333333" stroke-width="1.25"/>
<text transform="translate(811.71,186.80) scale(0.9733,1)" x="-1.27 8.45" y="0" font-size="15.64" >10</text>
<text transform="translate(830.08,181.90) scale(0.9945,1)" x="-0.43" y="0" font-size="10.94" >0</text>
<line x1="710.8" y1="141.60" x2="714.3" y2="141.60" stroke="#333333" stroke-width="1.25"/>
<text transform="translate(670.52,147.60) scale(0.9722,1)" x="-0.50 8.89 13.77 23.56" y="0" font-size="15.56" >0.25</text>
<line x1="710.8" y1="106.40" x2="714.3" y2="106.40" stroke="#333333" stroke-width="1.25"/>
<text transform="translate(670.21,112.40) scale(0.9834,1)" x="-0.55 8.77 13.70 23.31" y="0" font-size="15.56" >0.50</text>
<line x1="710.8" y1="71.20" x2="714.3" y2="71.20" stroke="#333333" stroke-width="1.25"/>
<text transform="translate(670.52,77.20) scale(0.9765,1)" x="-0.52 8.85 13.86 23.44" y="0" font-size="15.56" >0.75</text>
<line x1="710.8" y1="36.00" x2="714.3" y2="36.00" stroke="#333333" stroke-width="1.25"/>
<text transform="translate(670.86,42.00) scale(0.9878,1)" x="-1.30 8.06 13.03 22.53" y="0" font-size="15.56" >1.00</text>
<clipPath id="c3"><rect x="936.6" y="22.9" width="243.80" height="250.00"/></clipPath>
<line x1="947.50" y1="22.9" x2="947.50" y2="272.9" stroke="#8c8c8c" stroke-width="1" stroke-dasharray="1.5 1.45"/>
<line x1="1003.50" y1="22.9" x2="1003.50" y2="272.9" stroke="#8c8c8c" stroke-width="1" stroke-dasharray="1.5 1.45"/>
<line x1="1058.50" y1="22.9" x2="1058.50" y2="272.9" stroke="#8c8c8c" stroke-width="1" stroke-dasharray="1.5 1.45"/>
<line x1="1114.50" y1="22.9" x2="1114.50" y2="272.9" stroke="#8c8c8c" stroke-width="1" stroke-dasharray="1.5 1.45"/>
<line x1="1169.50" y1="22.9" x2="1169.50" y2="272.9" stroke="#8c8c8c" stroke-width="1" stroke-dasharray="1.5 1.45"/>
<line x1="936.6" y1="267.39" x2="1180.4" y2="267.39" stroke="#8c8c8c" stroke-width="1" stroke-dasharray="1.5 1.45"/>
<line x1="936.6" y1="233.62" x2="1180.4" y2="233.62" stroke="#8c8c8c" stroke-width="1" stroke-dasharray="1.5 1.45"/>
<line x1="936.6" y1="199.85" x2="1180.4" y2="199.85" stroke="#8c8c8c" stroke-width="1" stroke-dasharray="1.5 1.45"/>
<line x1="936.6" y1="166.08" x2="1180.4" y2="166.08" stroke="#8c8c8c" stroke-width="1" stroke-dasharray="1.5 1.45"/>
<line x1="936.6" y1="132.31" x2="1180.4" y2="132.31" stroke="#8c8c8c" stroke-width="1" stroke-dasharray="1.5 1.45"/>
<line x1="936.6" y1="98.54" x2="1180.4" y2="98.54" stroke="#8c8c8c" stroke-width="1" stroke-dasharray="1.5 1.45"/>
<line x1="936.6" y1="64.77" x2="1180.4" y2="64.77" stroke="#8c8c8c" stroke-width="1" stroke-dasharray="1.5 1.45"/>
<line x1="936.6" y1="31.00" x2="1180.4" y2="31.00" stroke="#8c8c8c" stroke-width="1" stroke-dasharray="1.5 1.45"/>
<g clip-path="url(#c3)"><path d="M947.70,217.75 L947.71,217.75 L947.98,209.98 L948.81,210.66 L951.03,215.05 L958.79,232.94 L980.97,248.48 L1058.60,261.31 L1091.87,261.31 L1169.50,264.01" fill="none" stroke="#10107f" stroke-width="2.4" stroke-linejoin="round"/>
<circle cx="947.70" cy="217.75" r="3.35" fill="#10107f"/>
<circle cx="947.71" cy="217.75" r="3.35" fill="#10107f"/>
<circle cx="947.98" cy="209.98" r="3.35" fill="#10107f"/>
<circle cx="948.81" cy="210.66" r="3.35" fill="#10107f"/>
<circle cx="951.03" cy="215.05" r="3.35" fill="#10107f"/>
<circle cx="958.79" cy="232.94" r="3.35" fill="#10107f"/>
<circle cx="980.97" cy="248.48" r="3.35" fill="#10107f"/>
<circle cx="1058.60" cy="261.31" r="3.35" fill="#10107f"/>
<circle cx="1091.87" cy="261.31" r="3.35" fill="#10107f"/>
<circle cx="1169.50" cy="264.01" r="3.35" fill="#10107f"/>
<path d="M947.70,34.71 L947.71,37.75 L947.98,51.60 L948.81,80.64 L951.03,145.48 L958.79,209.98 L980.97,237.67 L1058.60,259.42 L1091.87,260.30 L1169.50,259.96" fill="none" stroke="#ee0a0a" stroke-width="2.4" stroke-linejoin="round"/>
<circle cx="947.70" cy="34.71" r="3.35" fill="#ee0a0a"/>
<circle cx="947.71" cy="37.75" r="3.35" fill="#ee0a0a"/>
<circle cx="947.98" cy="51.60" r="3.35" fill="#ee0a0a"/>
<circle cx="948.81" cy="80.64" r="3.35" fill="#ee0a0a"/>
<circle cx="951.03" cy="145.48" r="3.35" fill="#ee0a0a"/>
<circle cx="958.79" cy="209.98" r="3.35" fill="#ee0a0a"/>
<circle cx="980.97" cy="237.67" r="3.35" fill="#ee0a0a"/>
<circle cx="1058.60" cy="259.42" r="3.35" fill="#ee0a0a"/>
<circle cx="1091.87" cy="260.30" r="3.35" fill="#ee0a0a"/>
<circle cx="1169.50" cy="259.96" r="3.35" fill="#ee0a0a"/>
<path d="M947.70,76.93 L947.71,86.38 L947.98,91.11 L948.81,127.24 L951.03,188.71 L958.79,232.94 L980.97,245.44 L1058.60,259.42 L1091.87,260.30 L1169.50,259.96" fill="none" stroke="#238b23" stroke-width="2.4" stroke-linejoin="round"/>
<rect x="944.60" y="73.83" width="6.20" height="6.20" fill="#238b23" stroke="#186c18" stroke-width="0.7"/>
<rect x="944.61" y="83.28" width="6.20" height="6.20" fill="#238b23" stroke="#186c18" stroke-width="0.7"/>
<rect x="944.88" y="88.01" width="6.20" height="6.20" fill="#238b23" stroke="#186c18" stroke-width="0.7"/>
<rect x="945.71" y="124.14" width="6.20" height="6.20" fill="#238b23" stroke="#186c18" stroke-width="0.7"/>
<rect x="947.93" y="185.61" width="6.20" height="6.20" fill="#238b23" stroke="#186c18" stroke-width="0.7"/>
<rect x="955.69" y="229.84" width="6.20" height="6.20" fill="#238b23" stroke="#186c18" stroke-width="0.7"/>
<rect x="977.87" y="242.34" width="6.20" height="6.20" fill="#238b23" stroke="#186c18" stroke-width="0.7"/>
<rect x="1055.50" y="256.32" width="6.20" height="6.20" fill="#238b23" stroke="#186c18" stroke-width="0.7"/>
<rect x="1088.77" y="257.20" width="6.20" height="6.20" fill="#238b23" stroke="#186c18" stroke-width="0.7"/>
<rect x="1166.40" y="256.86" width="6.20" height="6.20" fill="#238b23" stroke="#186c18" stroke-width="0.7"/>
<line x1="947.70" y1="259.62" x2="1169.50" y2="259.62" stroke="#8a228f" stroke-width="2.3" stroke-dasharray="8.3 3.9"/></g>
<path d="M936.50,22.275 L936.50,273.525 M1180.50,22.275 L1180.50,273.525" stroke="#333333" stroke-width="1.15" fill="none"/><path d="M935.90,22.90 L1181.10,22.90 M935.90,272.90 L1181.10,272.90" stroke="#333333" stroke-width="1.25" fill="none"/>
<line x1="947.50" y1="272.9" x2="947.50" y2="277.09999999999997" stroke="#333333" stroke-width="1.25"/>
<text transform="translate(943.62,297.60) scale(0.9945,1)" x="-0.64" y="0" font-size="16.32" >0</text>
<line x1="1003.50" y1="272.9" x2="1003.50" y2="277.09999999999997" stroke="#333333" stroke-width="1.25"/>
<text transform="translate(994.81,297.60) scale(0.9666,1)" x="-0.77 9.43" y="0" font-size="16.32" >50</text>
<line x1="1058.50" y1="272.9" x2="1058.50" y2="277.09999999999997" stroke="#333333" stroke-width="1.25"/>
<text transform="translate(1045.16,297.60) scale(0.9806,1)" x="-1.35 8.72 18.71" y="0" font-size="16.32" >100</text>
<line x1="1114.50" y1="272.9" x2="1114.50" y2="277.09999999999997" stroke="#333333" stroke-width="1.25"/>
<text transform="translate(1101.16,297.60) scale(0.9614,1)" x="-1.29 8.92 19.18" y="0" font-size="16.32" >150</text>
<line x1="1169.50" y1="272.9" x2="1169.50" y2="277.09999999999997" stroke="#333333" stroke-width="1.25"/>
<text transform="translate(1155.88,297.60) scale(0.9829,1)" x="-0.91 9.26 19.23" y="0" font-size="16.32" >200</text>
<line x1="932.6" y1="267.39" x2="936.6" y2="267.39" stroke="#333333" stroke-width="1.25"/>
<text transform="translate(901.76,274.39) scale(0.9790,1)" x="-0.58 9.20 14.45" y="0" font-size="16.32" >0.3</text>
<line x1="932.6" y1="233.62" x2="936.6" y2="233.62" stroke="#333333" stroke-width="1.25"/>
<text transform="translate(901.39,240.62) scale(0.9969,1)" x="-0.65 8.99 14.09" y="0" font-size="16.32" >0.4</text>
<line x1="932.6" y1="199.85" x2="936.6" y2="199.85" stroke="#333333" stroke-width="1.25"/>
<text transform="translate(901.87,206.85) scale(0.9715,1)" x="-0.55 9.28 14.52" y="0" font-size="16.32" >0.5</text>
<line x1="932.6" y1="166.08" x2="936.6" y2="166.08" stroke="#333333" stroke-width="1.25"/>
<text transform="translate(901.49,173.08) scale(1.0124,1)" x="-0.71 8.82 13.81" y="0" font-size="16.32" >0.6</text>
<line x1="932.6" y1="132.31" x2="936.6" y2="132.31" stroke="#333333" stroke-width="1.25"/>
<text transform="translate(901.84,139.31) scale(0.9873,1)" x="-0.61 9.10 14.24" y="0" font-size="16.32" >0.7</text>
<line x1="932.6" y1="98.54" x2="936.6" y2="98.54" stroke="#333333" stroke-width="1.25"/>
<text transform="translate(901.58,105.54) scale(1.0017,1)" x="-0.67 8.94 14.00" y="0" font-size="16.32" >0.8</text>
<line x1="932.6" y1="64.77" x2="936.6" y2="64.77" stroke="#333333" stroke-width="1.25"/>
<text transform="translate(901.61,71.77) scale(1.0115,1)" x="-0.70 8.83 13.78" y="0" font-size="16.32" >0.9</text>
<line x1="932.6" y1="31.00" x2="936.6" y2="31.00" stroke="#333333" stroke-width="1.25"/>
<text transform="translate(902.22,38.00) scale(0.9778,1)" x="-1.34 8.52 13.76" y="0" font-size="16.32" >1.0</text>
<text transform="translate(991.95,16.60) scale(0.9945,1)" x="-1.53 11.98 16.84 27.98 40.52 53.67 60.69 72.55 84.32 84.32 102.31 109.08 120.21 130.59" y="0" font-size="18.95" >CIFAR-100 test</text>
<text transform="translate(1032.01,318.20) scale(0.9854,1)" x="-2.31 10.75 22.26 33.42 44.17" y="0" font-size="18.95" >Epoch</text>
<clipPath id="ic3"><rect x="1007.0" y="31.1" width="166.50" height="131.70"/></clipPath>
<rect x="1007.0" y="31.1" width="166.50" height="131.70" fill="#fff"/>
<line x1="1048.50" y1="31.1" x2="1048.50" y2="162.8" stroke="#8c8c8c" stroke-width="1" stroke-dasharray="1.5 1.45"/>
<line x1="1115.50" y1="31.1" x2="1115.50" y2="162.8" stroke="#8c8c8c" stroke-width="1" stroke-dasharray="1.5 1.45"/>
<line x1="1007.0" y1="142.18" x2="1173.5" y2="142.18" stroke="#8c8c8c" stroke-width="1" stroke-dasharray="1.5 1.45"/>
<line x1="1007.0" y1="106.42" x2="1173.5" y2="106.42" stroke="#8c8c8c" stroke-width="1" stroke-dasharray="1.5 1.45"/>
<line x1="1007.0" y1="70.66" x2="1173.5" y2="70.66" stroke="#8c8c8c" stroke-width="1" stroke-dasharray="1.5 1.45"/>
<line x1="1007.0" y1="34.90" x2="1173.5" y2="34.90" stroke="#8c8c8c" stroke-width="1" stroke-dasharray="1.5 1.45"/>
<g clip-path="url(#ic3)"><path d="M1015.01,133.78 L1051.90,133.78 L1095.65,129.66 L1115.90,130.02 L1131.95,132.35 L1149.53,141.82 L1165.58,150.05" fill="none" stroke="#10107f" stroke-width="2.4" stroke-linejoin="round"/>
<circle cx="1015.01" cy="133.78" r="3.35" fill="#10107f"/>
<circle cx="1051.90" cy="133.78" r="3.35" fill="#10107f"/>
<circle cx="1095.65" cy="129.66" r="3.35" fill="#10107f"/>
<circle cx="1115.90" cy="130.02" r="3.35" fill="#10107f"/>
<circle cx="1131.95" cy="132.35" r="3.35" fill="#10107f"/>
<circle cx="1149.53" cy="141.82" r="3.35" fill="#10107f"/>
<circle cx="1165.58" cy="150.05" r="3.35" fill="#10107f"/>
<path d="M1015.01,36.87 L1051.90,38.48 L1095.65,45.81 L1115.90,61.18 L1131.95,95.51 L1149.53,129.66 L1165.58,144.33" fill="none" stroke="#ee0a0a" stroke-width="2.4" stroke-linejoin="round"/>
<circle cx="1015.01" cy="36.87" r="3.35" fill="#ee0a0a"/>
<circle cx="1051.90" cy="38.48" r="3.35" fill="#ee0a0a"/>
<circle cx="1095.65" cy="45.81" r="3.35" fill="#ee0a0a"/>
<circle cx="1115.90" cy="61.18" r="3.35" fill="#ee0a0a"/>
<circle cx="1131.95" cy="95.51" r="3.35" fill="#ee0a0a"/>
<circle cx="1149.53" cy="129.66" r="3.35" fill="#ee0a0a"/>
<circle cx="1165.58" cy="144.33" r="3.35" fill="#ee0a0a"/>
<path d="M1015.01,59.22 L1051.90,64.22 L1095.65,66.73 L1115.90,85.86 L1131.95,118.40 L1149.53,141.82 L1165.58,148.44" fill="none" stroke="#238b23" stroke-width="2.4" stroke-linejoin="round"/>
<rect x="1011.91" y="56.12" width="6.20" height="6.20" fill="#238b23" stroke="#186c18" stroke-width="0.7"/>
<rect x="1048.80" y="61.12" width="6.20" height="6.20" fill="#238b23" stroke="#186c18" stroke-width="0.7"/>
<rect x="1092.55" y="63.63" width="6.20" height="6.20" fill="#238b23" stroke="#186c18" stroke-width="0.7"/>
<rect x="1112.80" y="82.76" width="6.20" height="6.20" fill="#238b23" stroke="#186c18" stroke-width="0.7"/>
<rect x="1128.85" y="115.30" width="6.20" height="6.20" fill="#238b23" stroke="#186c18" stroke-width="0.7"/>
<rect x="1146.43" y="138.72" width="6.20" height="6.20" fill="#238b23" stroke="#186c18" stroke-width="0.7"/>
<rect x="1162.48" y="145.34" width="6.20" height="6.20" fill="#238b23" stroke="#186c18" stroke-width="0.7"/>
<line x1="1015.01" y1="156.66" x2="1165.58" y2="156.66" stroke="#8a228f" stroke-width="2.3" stroke-dasharray="8.3 3.9"/></g>
<path d="M1007.50,30.475 L1007.50,163.425 M1173.50,30.475 L1173.50,163.425" stroke="#333333" stroke-width="1.15" fill="none"/><path d="M1006.90,31.10 L1174.10,31.10 M1006.90,162.80 L1174.10,162.80" stroke="#333333" stroke-width="1.25" fill="none"/>
<line x1="1048.50" y1="162.8" x2="1048.50" y2="166.3" stroke="#333333" stroke-width="1.25"/>
<text transform="translate(1032.77,186.80) scale(0.9733,1)" x="-1.27 8.45" y="0" font-size="15.64" >10</text>
<text transform="translate(1051.14,181.90) scale(1.0912,1)" x="-0.24 6.77" y="0" font-size="10.94" >−2</text>
<line x1="1115.50" y1="162.8" x2="1115.50" y2="166.3" stroke="#333333" stroke-width="1.25"/>
<text transform="translate(1103.71,186.80) scale(0.9733,1)" x="-1.27 8.45" y="0" font-size="15.64" >10</text>
<text transform="translate(1122.08,181.90) scale(0.9945,1)" x="-0.43" y="0" font-size="10.94" >0</text>
<line x1="1003.5" y1="142.18" x2="1007.0" y2="142.18" stroke="#333333" stroke-width="1.25"/>
<text transform="translate(972.14,148.18) scale(1.0016,1)" x="-0.62 8.57 13.43" y="0" font-size="15.56" >0.4</text>
<line x1="1003.5" y1="106.42" x2="1007.0" y2="106.42" stroke="#333333" stroke-width="1.25"/>
<text transform="translate(972.24,112.42) scale(1.0172,1)" x="-0.67 8.41 13.16" y="0" font-size="15.56" >0.6</text>
<line x1="1003.5" y1="70.66" x2="1007.0" y2="70.66" stroke="#333333" stroke-width="1.25"/>
<text transform="translate(972.32,76.66) scale(1.0065,1)" x="-0.63 8.52 13.35" y="0" font-size="15.56" >0.8</text>
<line x1="1003.5" y1="34.90" x2="1007.0" y2="34.90" stroke="#333333" stroke-width="1.25"/>
<text transform="translate(972.94,40.90) scale(0.9824,1)" x="-1.28 8.12 13.12" y="0" font-size="15.56" >1.0</text>
<rect x="1189.8" y="39.2" width="168.50" height="74.40" rx="1.6" ry="1.6" fill="#fff" stroke="#d9d9d9" stroke-width="1"/>
<path d="M1194.50,51.70 L1228.00,51.70" fill="none" stroke="#ee0a0a" stroke-width="2.4" stroke-linejoin="round"/>
<circle cx="1211.70" cy="51.70" r="3.35" fill="#ee0a0a"/>
<text transform="translate(1242.00,57.70) scale(0.9500,1)" x="-1.50 11.26 11.26 29.08 40.62 40.62 52.08 61.45 71.34 82.73 96.58" y="0" font-size="17.17" >NN at spawn</text>
<path d="M1194.50,75.20 L1228.00,75.20" fill="none" stroke="#238b23" stroke-width="2.4" stroke-linejoin="round"/>
<rect x="1208.60" y="72.10" width="6.20" height="6.20" fill="#238b23" stroke="#186c18" stroke-width="0.7"/>
<text transform="translate(1242.00,81.20) scale(0.9989,1)" x="-1.52 7.80 12.35 22.48 31.79 42.93 49.17 53.36 62.08 72.09" y="0" font-size="17.17" >Linearized</text>
<path d="M1194.50,98.70 L1228.00,98.70" fill="none" stroke="#10107f" stroke-width="2.4" stroke-linejoin="round"/>
<circle cx="1211.70" cy="98.70" r="3.35" fill="#10107f"/>
<text transform="translate(1242.00,104.70) scale(0.9784,1)" x="-1.44 7.89 18.29 18.29 36.72 45.58 45.58 63.04 73.32 83.66 94.04 98.65 103.36" y="0" font-size="17.17" >Low LR nonlin</text>
</svg>
</body></html>
